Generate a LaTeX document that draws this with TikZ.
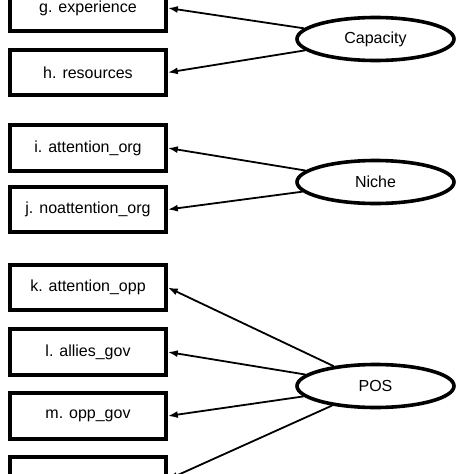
\documentclass[tikz,border=0pt]{standalone}
\usepackage{fontspec}
\setmainfont{Liberation Sans}
\usetikzlibrary{arrows.meta,shapes.geometric}
\begin{document}
\begin{tikzpicture}[x=1pt,y=-1pt,
  obs/.style={draw=black,line width=3.6pt,rectangle,minimum width=156pt,minimum height=45.5pt,inner sep=0pt,font=\fontsize{16}{18}\selectfont},
  lat/.style={draw=black,line width=3.6pt,ellipse,minimum width=157pt,minimum height=43pt,inner sep=0pt,font=\fontsize{16}{18}\selectfont},
  load/.style={line width=1.8pt,-{Latex[length=10pt,width=7pt]}}]
\useasboundingbox (0,0) rectangle (474,474);
\clip (0,0) rectangle (474,474);
\fill[white] (0,0) rectangle (474,474);
\node[obs] (g) at (88,8) {g. experience};
\node[obs] (h) at (88,72.5) {h. resources};
\node[obs] (i) at (88,148) {i. attention\_org};
\node[obs] (j) at (88,209.5) {j. noattention\_org};
\node[obs] (k) at (88,287.5) {k. attention\_opp};
\node[obs] (l) at (88,352) {l. allies\_gov};
\node[obs] (m) at (88,416) {m. opp\_gov};
\node[obs] (n) at (88,479.5) {};
\node[lat] (cap) at (375.5,39) {Capacity};
\node[lat] (nic) at (375.5,182) {Niche};
\node[lat] (pos) at (375.5,386) {POS};
\draw[load] (cap) -- (g.east);
\draw[load] (cap) -- (h.east);
\draw[load] (nic) -- (i.east);
\draw[load] (nic) -- (j.east);
\draw[load] (pos) -- (k.east);
\draw[load] (pos) -- (l.east);
\draw[load] (pos) -- (m.east);
\draw[load] (pos) -- (n.east);
\end{tikzpicture}
\end{document}
